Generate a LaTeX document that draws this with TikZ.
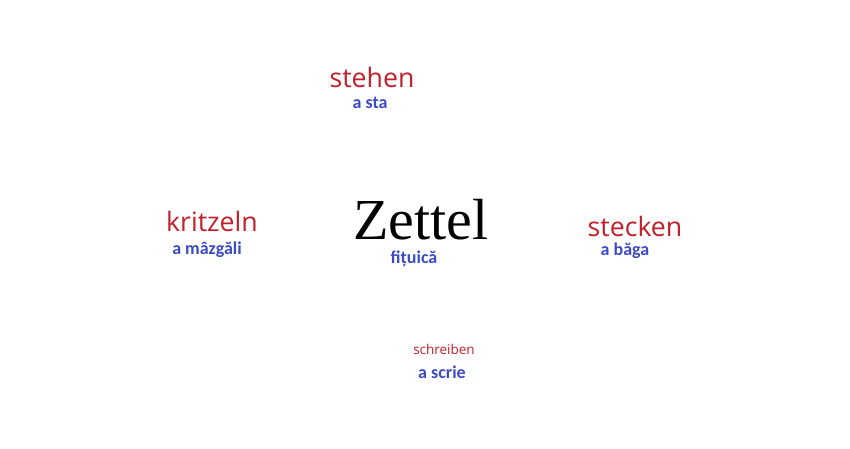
\documentclass[tikz,border=0pt]{standalone}
\usepackage{fontspec}
\newfontfamily\redfont{Open Sans}
\newfontfamily\bluefont{Carlito}
\newfontfamily\seriffont{Liberation Serif}
\definecolor{wred}{HTML}{C2212B}
\definecolor{wblue}{HTML}{3B4BC4}
\tikzset{
  word/.style={inner sep=0pt, text=wred, font=\redfont\fontsize{26.7}{26.7}\selectfont},
  smallword/.style={inner sep=0pt, text=wred, font=\redfont\fontsize{13.5}{13.5}\selectfont},
  trans/.style={inner sep=0pt, text=wblue, font=\bluefont\bfseries\fontsize{18}{18}\selectfont},
  mainword/.style={inner sep=0pt, text depth=0pt, anchor=base, text=black, font=\seriffont\fontsize{58}{58}\selectfont}
}
\begin{document}
\begin{tikzpicture}[x=1pt,y=1pt]
\useasboundingbox (0,0) rectangle (850,448);
\fill[white] (0,0) rectangle (850,448);
\node[mainword] (zettel) at (421,209) {Zettel};
\node[trans] (fituica) at (414,189.5) {fițuică};
\node[word] (stehen) at (372,371) {stehen};
\node[trans] (asta) at (370,345) {a sta};
\node[word] (kritzeln) at (212,227) {kritzeln};
\node[trans] (amazgali) at (207,198) {a mâzgăli};
\node[word] (stecken) at (635,222) {stecken};
\node[trans] (abaga) at (625,197) {a băga};
\node[smallword] (schreiben) at (444,99) {schreiben};
\node[trans] (ascrie) at (442,76) {a scrie};
\end{tikzpicture}
\end{document}
